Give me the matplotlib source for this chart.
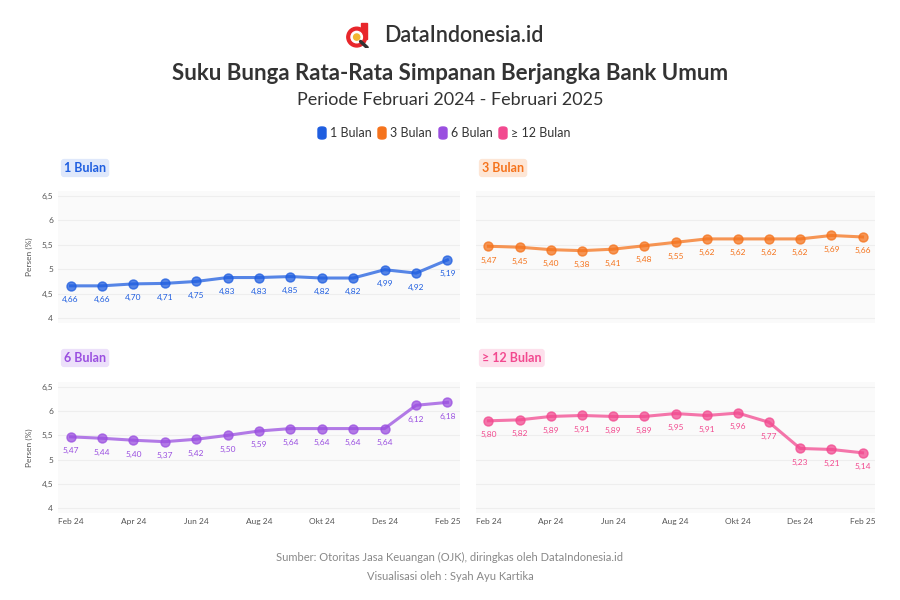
import matplotlib
matplotlib.use('Agg')
import matplotlib.pyplot as plt
from matplotlib.patches import Circle, FancyBboxPatch, Rectangle
import numpy as np

plt.rcParams['font.family'] = ['Lato', 'DejaVu Sans']

# DATA ------------------------------------------------------------------------
months = ['Feb 24', 'Mar 24', 'Apr 24', 'Mei 24', 'Jun 24', 'Jul 24', 'Aug 24',
          'Sep 24', 'Okt 24', 'Nov 24', 'Des 24', 'Jan 25', 'Feb 25']
bulan_1 = [4.66, 4.66, 4.70, 4.71, 4.75, 4.83, 4.83, 4.85, 4.82, 4.82, 4.99, 4.92, 5.19]
bulan_3 = [5.47, 5.45, 5.40, 5.38, 5.41, 5.48, 5.55, 5.62, 5.62, 5.62, 5.62, 5.69, 5.66]
bulan_6 = [5.47, 5.44, 5.40, 5.37, 5.42, 5.50, 5.59, 5.64, 5.64, 5.64, 5.64, 6.12, 6.18]
bulan_12 = [5.80, 5.82, 5.89, 5.91, 5.89, 5.89, 5.95, 5.91, 5.96, 5.77, 5.23, 5.21, 5.14]
series_names = ['1 Bulan', '3 Bulan', '6 Bulan', '\u2265 12 Bulan']
series_vals = [bulan_1, bulan_3, bulan_6, bulan_12]
colors = ['#1f5ee0', '#f5731c', '#9a4fe0', '#f2498f']
light = ['#dfe8fb', '#fde6d6', '#ece0fa', '#fde0ec']
yticks = [4, 4.5, 5, 5.5, 6, 6.5]
xtick_idx = [0, 2, 4, 6, 8, 10, 12]
# -----------------------------------------------------------------------------

fig = plt.figure(figsize=(9, 6), dpi=100)
W, H = 900, 600

def fx(px):
    return px / W

def fy(py):
    return 1 - py / H

# logo
lax = fig.add_axes([fx(345), fy(48), fx(26), 26 / H])
lax.set_xlim(0, 1); lax.set_ylim(0, 1); lax.axis('off')
lax.add_patch(Rectangle((0.62, 0.35), 0.22, 0.62, color='#e8262b'))
lax.add_patch(Circle((0.45, 0.42), 0.38, color='#e8262b'))
lax.add_patch(Circle((0.45, 0.42), 0.22, color='white'))
lax.add_patch(Circle((0.45, 0.42), 0.12, color='#f2b630'))
lax.plot([0.6, 0.85], [0.25, 0.02], color='#333333', lw=2.5, solid_capstyle='round')
fig.text(fx(384), fy(35), 'DataIndonesia.id', fontsize=15.5, color='#333333',
         fontweight='semibold', va='center', ha='left')

fig.text(0.5, fy(73), 'Suku Bunga Rata-Rata Simpanan Berjangka Bank Umum',
         fontsize=16, fontweight='bold', color='#333333', ha='center', va='center')
fig.text(0.5, fy(100), 'Periode Februari 2024 - Februari 2025',
         fontsize=13, color='#333333', ha='center', va='center')

# legend
leg_x = [318, 378, 439, 499]
for i, name in enumerate(series_names):
    fig.patches.append(FancyBboxPatch((fx(leg_x[i]), fy(139)), fx(8), 12 / H,
                                      boxstyle='round,pad=0,rounding_size=0.004',
                                      transform=fig.transFigure, color=colors[i]))
    fig.text(fx(leg_x[i] + 12), fy(133), name, fontsize=9, color='#333333',
             va='center', ha='left')

# panels
panel_pos = [(58, 191, 402, 132), (476, 191, 399, 132),
             (58, 382, 402, 131), (476, 382, 399, 131)]
title_y = [168, 168, 358, 358]
x = np.arange(len(months))
for i in range(4):
    l, t, w, h = panel_pos[i]
    ax = fig.add_axes([fx(l), fy(t + h), fx(w), h / H])
    ax.set_facecolor('#fafafa')
    vals = series_vals[i]
    ax.plot(x, vals, color=colors[i], lw=2.2, alpha=0.75, marker='o', ms=6.5, zorder=3)
    for xi, v in zip(x, vals):
        ax.annotate(f'{v:.2f}'.replace('.', ','), (xi, v), xytext=(0, -10),
                    textcoords='offset points', ha='center', va='center',
                    fontsize=6, color=colors[i])
    ax.set_ylim(3.9, 6.6)
    ax.set_xlim(-0.4, 12.4)
    ax.set_yticks(yticks)
    ax.grid(axis='y', color='#eeeeee', lw=0.8)
    ax.set_axisbelow(True)
    for s in ax.spines.values():
        s.set_visible(False)
    ax.tick_params(length=0, labelsize=6, colors='#555555')
    if i % 2 == 0:
        ax.set_yticklabels([f'{t:g}'.replace('.', ',') for t in yticks])
        ax.set_ylabel('Persen (%)', fontsize=6, color='#555555', labelpad=6)
    else:
        ax.set_yticklabels([])
    if i >= 2:
        ax.set_xticks(xtick_idx)
        ax.set_xticklabels([months[k] for k in xtick_idx])
    else:
        ax.set_xticks([])
    fig.text(fx(l + 6), fy(title_y[i]), series_names[i], fontsize=9,
             fontweight='bold', color=colors[i], va='center', ha='left',
             bbox=dict(boxstyle='round,pad=0.25', fc=light[i], ec='none'))

fig.text(0.5, fy(557), 'Sumber: Otoritas Jasa Keuangan (OJK), diringkas oleh DataIndonesia.id',
         fontsize=8, color='#888888', ha='center', va='center')
fig.text(0.5, fy(576), 'Visualisasi oleh : Syah Ayu Kartika',
         fontsize=8, color='#888888', ha='center', va='center')

fig.savefig('out.png', dpi=100, facecolor='white')
